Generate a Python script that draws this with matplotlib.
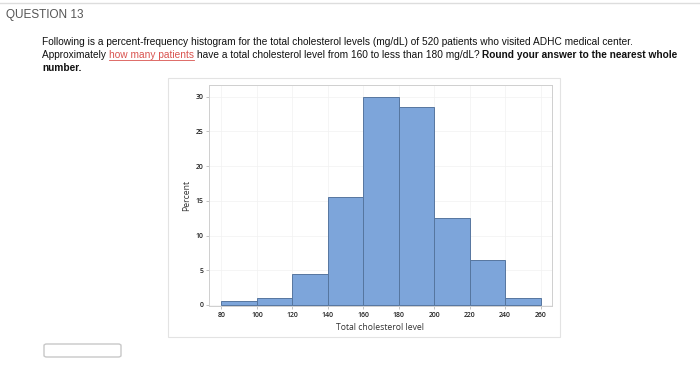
import matplotlib
matplotlib.use("Agg")
import matplotlib.pyplot as plt
from matplotlib.patches import Rectangle, FancyBboxPatch
from matplotlib.lines import Line2D

# Histogram data (percent per 20 mg/dL bin)
bin_edges = [80, 100, 120, 140, 160, 180, 200, 220, 240, 260]
percents = [0.5, 1.0, 4.5, 15.5, 30.0, 28.5, 12.5, 6.5, 1.0]
x_ticks = [80, 100, 120, 140, 160, 180, 200, 220, 240, 260]
y_ticks = [0, 5, 10, 15, 20, 25, 30]

W, H = 700, 385
fig = plt.figure(figsize=(7, 3.85), dpi=100)
fig.patch.set_facecolor("white")

def fx(px):
    return px / W

def fy(py):
    return 1 - py / H

# top rule and heading
fig.add_artist(Line2D([0, 1], [fy(3), fy(3)], color="#dddddd", lw=1))
fig.text(fx(6), fy(15), "QUESTION 13", fontsize=8.5, color="#555555",
         family="Liberation Sans", va="center")

# question text, written piece by piece so styles can change mid-line
lines = [
    [("Following is a percent-frequency histogram for the total cholesterol levels (mg/dL) "
      "of 520 patients who visited ADHC medical center.", "normal", "#111111", False)],
    [("Approximately ", "normal", "#111111", False),
     ("how many patients", "normal", "#d9534f", True),
     (" have a total cholesterol level from 160 to less than 180 mg/dL? ", "normal", "#111111", False),
     ("Round your answer to the nearest whole", "bold", "#111111", False)],
    [("number.", "bold", "#111111", False)],
]
line_y = [42, 55, 68]
fig.canvas.draw()
renderer = fig.canvas.get_renderer()
for parts, py in zip(lines, line_y):
    x = fx(42)
    for txt, weight, col, underline in parts:
        t = fig.text(x, fy(py), txt, fontsize=7.3, fontweight=weight, color=col,
                     family="Liberation Sans", va="center")
        bb = t.get_window_extent(renderer=renderer)
        w = bb.width / W
        if underline:
            fig.add_artist(Line2D([x, x + w], [fy(py + 5), fy(py + 5)], color=col, lw=0.6))
        x += w

# outer chart frame
fig.add_artist(Rectangle((fx(168), fy(337)), fx(560) - fx(168), fy(78) - fy(337),
                         transform=fig.transFigure, fill=False, ec="#e3e3e3", lw=0.8))

# histogram axes
ax = fig.add_axes([fx(209), fy(306), fx(552) - fx(209), fy(85) - fy(306)])
widths = [bin_edges[i + 1] - bin_edges[i] for i in range(len(percents))]
ax.bar(bin_edges[:-1], percents, width=widths, align="edge",
       color="#7da5da", edgecolor="#56769f", linewidth=0.7, zorder=3)
ax.set_xlim(73, 266.4)
ax.set_ylim(-0.15, 31.7)
ax.set_xticks(x_ticks)
ax.set_yticks(y_ticks)
ax.set_xticklabels([str(v) for v in x_ticks])
ax.set_yticklabels([str(v) for v in y_ticks])
ax.tick_params(labelsize=5, length=2, width=0.5, color="#aaaaaa", pad=2,
               labelcolor="#222222")
for lab in ax.get_xticklabels() + ax.get_yticklabels():
    lab.set_family("Open Sans")
    lab.set_fontweight("semibold")
ax.grid(True, color="#f1f1f1", lw=0.5, zorder=0)
for s in ax.spines.values():
    s.set_color("#cfcfcf")
    s.set_linewidth(0.7)
ax.set_xlabel("Total cholesterol level", fontsize=6.2, family="Open Sans",
              color="#333333", labelpad=3)
ax.set_ylabel("Percent", fontsize=6.2, family="Open Sans", color="#333333",
              labelpad=3)

# answer box
fig.add_artist(FancyBboxPatch((fx(44), fy(357)), fx(121) - fx(44), fy(344) - fy(357),
                              boxstyle="round,pad=0,rounding_size=0.004",
                              transform=fig.transFigure, fill=False,
                              ec="#c8c8c8", lw=1))

fig.savefig("out.png", dpi=100)
